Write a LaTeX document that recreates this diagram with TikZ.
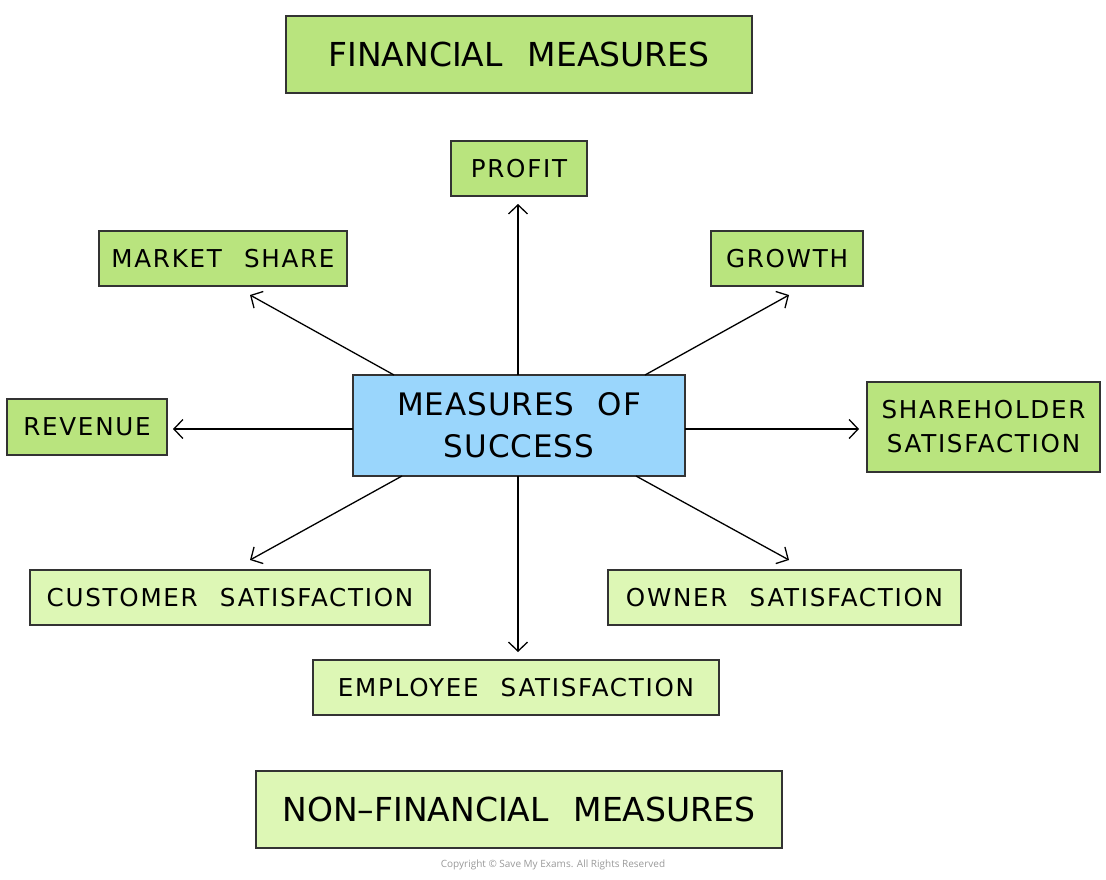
\documentclass[tikz,border=0pt]{standalone}
\usepackage{fontspec}
\setmainfont{DejaVu Sans}
\newfontfamily\spacedfont[LetterSpace=7]{DejaVu Sans}
\newfontfamily\midfont[LetterSpace=3]{DejaVu Sans}
\newfontfamily\copyfont{Open Sans}
\usetikzlibrary{arrows.meta}
\definecolor{finfill}{HTML}{B9E47E}
\definecolor{nonfill}{HTML}{DDF7B5}
\definecolor{midfill}{HTML}{9AD6FC}
\definecolor{edgecol}{HTML}{333333}
\newcommand{\gp}{\hspace{0.75em}}
\newcommand{\sgp}{\hspace{0.9em}}
\begin{document}
\begin{tikzpicture}[x=1pt,y=-1pt,
  box/.style={draw=edgecol,line width=1.3pt,rectangle,inner sep=0pt,align=center,text=black},
  fin/.style={box,fill=finfill},
  non/.style={box,fill=nonfill},
  mid/.style={box,fill=midfill},
  small/.style={font=\spacedfont\fontsize{24.6}{34}\selectfont},
  big/.style={font=\fontsize{33}{40}\selectfont},
  conn/.style={line width=1.3pt,draw=black,-{Straight Barb[length=9pt,width=19pt,line width=1.3pt]}}]
\useasboundingbox (0,0) rectangle (1106,879);
\node[fin,big,minimum width=466,minimum height=77] (finm) at (519,54.5) {FINANCIAL\gp MEASURES};
\node[fin,small,minimum width=136,minimum height=55] (profit) at (519,168.5) {PROFIT};
\node[fin,small,minimum width=248,minimum height=55] (market) at (223,258.5) {MARKET\sgp SHARE};
\node[fin,small,minimum width=152,minimum height=55] (growth) at (787,258.5) {GROWTH};
\node[fin,small,minimum width=160,minimum height=56] (revenue) at (87,427) {REVENUE};
\node[fin,small,minimum width=233,minimum height=90] (share) at (983.5,427) {SHAREHOLDER\\SATISFACTION};
\node[mid,minimum width=332,minimum height=101,font=\midfont\fontsize{31}{42}\selectfont] (mos) at (519,425.5) {MEASURES\gp OF\\SUCCESS};
\node[non,small,minimum width=400,minimum height=55] (cust) at (230,597.5) {CUSTOMER\sgp SATISFACTION};
\node[non,small,minimum width=353,minimum height=55] (owner) at (784.5,597.5) {OWNER\sgp SATISFACTION};
\node[non,small,minimum width=406,minimum height=55] (emp) at (516,687.5) {EMPLOYEE\sgp SATISFACTION};
\node[non,big,minimum width=526,minimum height=77] (nonm) at (519,809.5) {NON--FINANCIAL\gp MEASURES};
\node[text=black!40,font=\copyfont\fontsize{10}{12}\selectfont] (copy) at (553,865) {Copyright \textcopyright{} Save My Exams. All Rights Reserved};
% arrow ends
\coordinate (apr) at (518,375);
\coordinate (epr) at (518,204);
\coordinate (aml) at (394,375);
\coordinate (emk) at (250,295);
\coordinate (agr) at (645,375);
\coordinate (egr) at (789,295);
\coordinate (are) at (353,429);
\coordinate (ere) at (173,429);
\coordinate (ash) at (685,429);
\coordinate (esh) at (859,429);
\coordinate (acu) at (402,476);
\coordinate (ecu) at (250,560);
\coordinate (aow) at (636,476);
\coordinate (eow) at (789,560);
\coordinate (aem) at (518,476);
\coordinate (eem) at (518,652);
\draw[conn] (apr) -- (epr);
\draw[conn] (aml) -- (emk);
\draw[conn] (agr) -- (egr);
\draw[conn] (are) -- (ere);
\draw[conn] (ash) -- (esh);
\draw[conn] (acu) -- (ecu);
\draw[conn] (aow) -- (eow);
\draw[conn] (aem) -- (eem);
\end{tikzpicture}
\end{document}
